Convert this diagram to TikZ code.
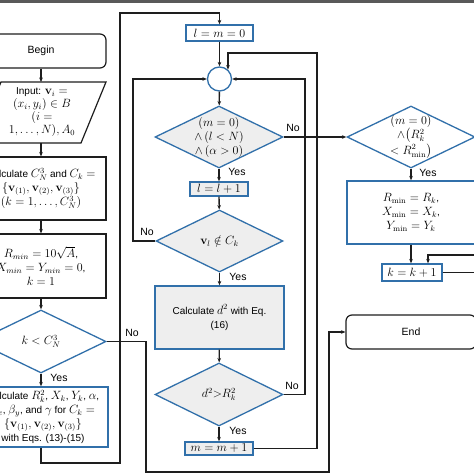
\documentclass[tikz,border=0pt]{standalone}
\usepackage[no-math]{fontspec}
\setmainfont{Liberation Sans}
\usepackage{amsmath}
\DeclareMathSizes{10}{11.5}{8.5}{6.5}
\usetikzlibrary{shapes.geometric,arrows.meta,calc}
\definecolor{fblue}{RGB}{49,112,170}
\definecolor{fgray}{RGB}{238,238,238}
\definecolor{linec}{RGB}{30,30,30}
\begin{document}
\begin{tikzpicture}[x=1pt,y=-1pt,
  every node/.style={font=\fontsize{10}{14}\selectfont, inner sep=0pt, align=center},
  conn/.style={draw=linec, line width=1.3pt},
  arr/.style={conn, -{Stealth[length=4.5pt,width=3.6pt]}},
  blk/.style={draw=linec, line width=1.2pt, fill=white, rectangle, minimum width=130pt},
  rblk/.style={blk, rounded corners=6pt},
  bbox/.style={draw=fblue, line width=1.3pt, fill=white, rectangle},
  gbox/.style={bbox, fill=fgray},
  bdia/.style={draw=fblue, line width=1.3pt, fill=white, diamond, inner sep=-30pt, minimum width=128pt, minimum height=62pt},
  gdia/.style={bdia, fill=fgray},
  lbl/.style={font=\fontsize{10.5}{13}\selectfont}
]
\useasboundingbox (0,0) rectangle (474,474);
\fill[white] (0,0) rectangle (474,474);
\clip (0,0) rectangle (474,474);
\fill[black!65] (0,0) rectangle (474,2.5);

% ---------- left column ----------
\node[rblk, minimum height=34pt, font=\fontsize{10.5}{13}\selectfont] (begin) at (41,51) {Begin};
\draw[draw=linec, line width=1.2pt, fill=white] (1,82) -- (106,82) -- (81,143) -- (-24,143) -- cycle;
\coordinate (intop) at (41,82);
\coordinate (inbot) at (41,143);
\node[font=\fontsize{10}{13}\selectfont] (input) at (42,112.5) {Input: $\mathbf{v}_i =$\\ $(x_i, y_i) \in B$\\ $(i =$\\ $1, \dots, N), A_0$};
\node[blk, minimum height=63pt] (calc1) at (41,188.5) {Calculate $C_N^3$ and $C_k =$\\ $\{\mathbf{v}_{(1)}, \mathbf{v}_{(2)}, \mathbf{v}_{(3)}\}$\\ $(k = 1, \dots, C_N^3)$};
\node[blk, minimum height=64pt] (init) at (41,266) {$R_{min} = 10\sqrt{A}$,\\ $X_{min} = Y_{min} = 0$,\\ $k = 1$};
\node[bdia, minimum width=130pt, minimum height=63pt] (kdia) at (41,341.5) {$k < C_N^3$};
\node[bbox, minimum width=130pt, minimum height=60pt] (calcR) at (43,417) {Calculate $R_k^2$, $X_k$, $Y_k$, $\alpha$,\\ $\beta_x$, $\beta_y$, and $\gamma$ for $C_k =$\\ $\{\mathbf{v}_{(1)}, \mathbf{v}_{(2)}, \mathbf{v}_{(3)}\}$\\ with Eqs. (13)-(15)};

% ---------- middle column ----------
\node[bbox, minimum width=67pt, minimum height=16pt] (lmm) at (219.5,33) {$l = m = 0$};
\node[circle, draw=fblue, line width=1.3pt, fill=white, minimum size=24pt] (junc) at (219.5,79) {};
\node[gdia] (d1) at (219,137) {$(m = 0)$\\ $\wedge\,(l < N)$\\ $\wedge\,(\alpha > 0)$};
\node[gbox, minimum width=58pt, minimum height=14pt] (l1) at (219,189) {$l = l + 1$};
\node[gdia, minimum width=127pt] (d3) at (219.5,241) {$\mathbf{v}_l \notin C_k$};
\node[gbox, minimum width=129pt, minimum height=63pt] (calcd) at (219.5,317.5) {Calculate $d^2$ with Eq.\\ (16)};
\node[gdia, minimum width=128pt, minimum height=63pt] (d4) at (219,394.5) {$d^2{>}R_k^2$};
\node[gbox, minimum width=68pt, minimum height=13pt] (m1) at (219,448.5) {$m = m + 1$};

% ---------- right column ----------
\node[bdia] (d2) at (411,137) {$(m = 0)$\\ $\wedge\bigl(R_k^2$\\ $<R_{\min}^2\bigr)$};
\node[bbox, minimum width=128pt, minimum height=63pt] (rbox) at (411,212.5) {$R_{\min} = R_k$,\\ $X_{\min} = X_k$,\\ $Y_{\min} = Y_k$};
\node[bbox, minimum width=60pt, minimum height=17pt] (k1) at (412,272.5) {$k = k + 1$};
\node[rblk, minimum height=34pt, font=\fontsize{10.5}{13}\selectfont] (endn) at (411,332) {End};

% ---------- connectors ----------
\draw[arr] (begin) -- (intop);
\draw[arr] (inbot) -- (calc1);
\draw[arr] (calc1) -- (init);
\draw[arr] (init) -- (kdia);
\draw[arr] (kdia) -- (kdia.south |- calcR.north);
\coordinate (lp1) at (120,463);
\coordinate (lp2) at (120,13);
\draw[arr] (calcR.south -| kdia.south) |- (lp1) -- (lp2) -| (lmm.north);
\coordinate (np1) at (146,472);
\coordinate (np2) at (329,472);
\draw[arr] (kdia.east) -| (np1) -- (np2) |- (endn.west);

\draw[arr] (lmm) -- (junc);
\draw[arr] (junc) -- (d1);
\draw[arr] (d1.east) -- (d2.west);
\draw[arr] (d1) -- (l1);
\draw[arr] (l1) -- (d3);
\coordinate (c1) at (133,79);
\draw[arr] (d3.west) -| (c1) -- (junc.west);
\draw[arr] (d3) -- (calcd);
\draw[arr] (calcd) -- (d4);
\coordinate (c2) at (305,79);
\draw[arr] (d4.east) -| (c2) -- (junc.east);
\draw[arr] (d4) -- (m1);
\coordinate (c3) at (317,53);
\draw[arr] (m1.east) -| (c3) -| (junc.48);

\draw[arr] (d2) -- (rbox);
\draw[arr] (rbox.south) -- (rbox.south |- k1.north);
\coordinate (c5) at (480,255);
\coordinate (c6) at (428,255);
\draw[arr] (c5) -- (c6) -- (c6 |- k1.north);
\coordinate (c7) at (480,272.5);
\draw[conn] (k1.east) -- (c7);

% ---------- labels ----------
\node[lbl] (nkd) at (132,333) {No};
\node[lbl] (ykd) at (59,378) {Yes};
\node[lbl] (nd1) at (293,128) {No};
\node[lbl] (yd1) at (237,172) {Yes};
\node[lbl] (nd3) at (147,232) {No};
\node[lbl] (yd3) at (238,277) {Yes};
\node[lbl] (nd4) at (292,386) {No};
\node[lbl] (yd4) at (238,431) {Yes};
\node[lbl] (yd2) at (428,173) {Yes};
\end{tikzpicture}
\end{document}
